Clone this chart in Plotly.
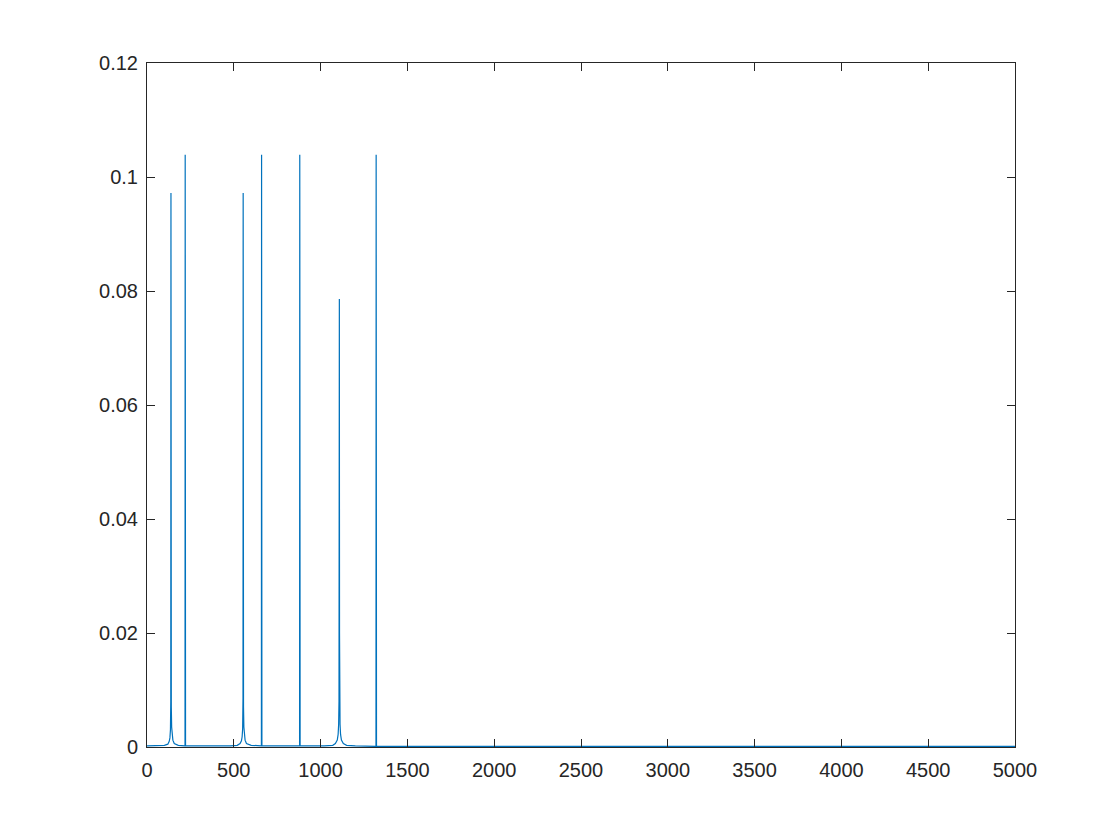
import plotly.graph_objects as go

# Spectrum samples (frequency in Hz, magnitude)
freq_hz = [
    0, 60, 100, 120, 128, 132, 135, 137, 138, 139, 140, 142, 145, 149, 157, 180,
    218, 219, 220, 221, 222,
    480, 520, 536, 544, 548, 551, 553, 554, 555, 556, 558, 561, 565, 573, 600,
    658, 659, 660, 661, 662,
    878, 879, 880, 881, 882,
    1020, 1070, 1085, 1096, 1101, 1104, 1106, 1107, 1108, 1109, 1110, 1112, 1115, 1120, 1131, 1150, 1200,
    1318, 1319, 1320, 1321, 1322,
    1500, 2500, 3500, 4500, 5000,
]
magnitude = [
    0.0002, 0.0002, 0.0003, 0.0005, 0.0010, 0.0016, 0.0030, 0.0080, 0.0972, 0.0250, 0.0070, 0.0035, 0.0020, 0.0012, 0.0006, 0.0003,
    0.0002, 0.0002, 0.1039, 0.0002, 0.0002,
    0.0002, 0.0003, 0.0006, 0.0011, 0.0018, 0.0032, 0.0085, 0.0972, 0.0250, 0.0070, 0.0035, 0.0020, 0.0012, 0.0006, 0.0003,
    0.0002, 0.0002, 0.1039, 0.0002, 0.0002,
    0.0002, 0.0002, 0.1039, 0.0002, 0.0002,
    0.0002, 0.0003, 0.0006, 0.0012, 0.0022, 0.0040, 0.0080, 0.0200, 0.0786, 0.0200, 0.0080, 0.0040, 0.0022, 0.0012, 0.0006, 0.0003, 0.0002,
    0.0001, 0.0001, 0.1039, 0.0001, 0.0001,
    0.0001, 0.0001, 0.0001, 0.0001, 0.0001,
]

x_tick_vals = [0, 500, 1000, 1500, 2000, 2500, 3000, 3500, 4000, 4500, 5000]
y_tick_vals = [0, 0.02, 0.04, 0.06, 0.08, 0.1, 0.12]
y_tick_text = ["0", "0.02", "0.04", "0.06", "0.08", "0.1", "0.12"]

fig = go.Figure()
fig.add_trace(go.Scatter(
    x=freq_hz, y=magnitude, mode="lines",
    line=dict(color="#0072BD", width=1.2),
    showlegend=False,
))

axis_common = dict(
    showgrid=False, zeroline=False,
    showline=True, linecolor="#262626", linewidth=1, mirror="ticks",
    ticks="inside", ticklen=8, tickcolor="#262626", tickwidth=1,
    tickfont=dict(family="Liberation Sans, Arial, sans-serif", size=20, color="#262626"),
)

fig.update_xaxes(range=[0, 5000], tickvals=x_tick_vals, ticklabelstandoff=5, **axis_common)
fig.update_yaxes(range=[0, 0.12], tickvals=y_tick_vals, ticktext=y_tick_text,
                 ticklabelstandoff=4, **axis_common)

fig.update_layout(
    width=1120, height=840,
    margin=dict(l=139, r=113, t=55, b=101),
    paper_bgcolor="white", plot_bgcolor="white",
)

fig.write_html("out.html")
